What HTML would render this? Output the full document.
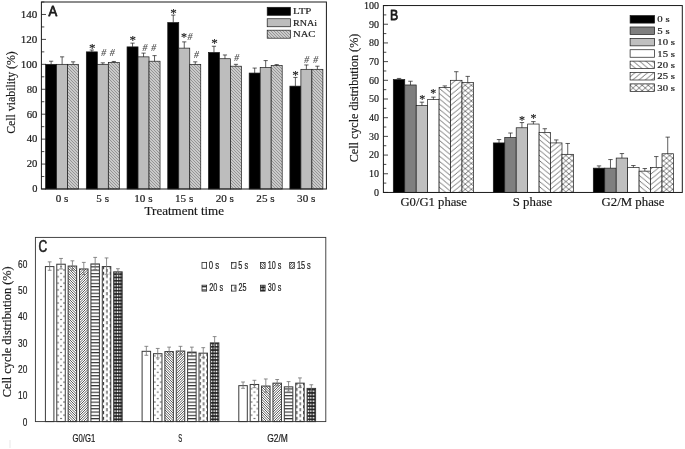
<!DOCTYPE html>
<html lang="en"><head><meta charset="utf-8"><title>Figure</title>
<style>html,body{margin:0;padding:0;background:#fff}svg{display:block}</style></head>
<body>
<svg width="685" height="449" viewBox="0 0 685 449">
<defs>
<pattern id="pNAC" width="3" height="3" patternUnits="userSpaceOnUse"><rect width="3" height="3" fill="#fff"/><path d="M-0.5,-0.5 L3.5,3.5 M-0.5,1 L2,3.5 M1,-0.5 L3.5,2 M-0.5,2.5 L0.5,3.5 M2.5,-0.5 L3.5,0.5" stroke="#2a2a2a" stroke-width="0.5"/></pattern>
<pattern id="pB1" x="439.2" y="88.3" width="6.3" height="5.2" patternUnits="userSpaceOnUse"><rect width="6.3" height="5.2" fill="#fff"/><path d="M-6.3,-5.2 L12.6,10.4 M4.3,-1.651 L8.3,1.651 M-2,3.549 L2,6.851" stroke="#2a2a2a" stroke-width="0.65"/></pattern>
<pattern id="pB2" x="450.5" y="84.7" width="6.3" height="5.2" patternUnits="userSpaceOnUse"><rect width="6.3" height="5.2" fill="#fff"/><path d="M-6.3,10.4 L12.6,-5.2 M-2,1.651 L2,-1.651 M4.3,6.851 L8.3,3.549" stroke="#2a2a2a" stroke-width="0.65"/></pattern>
<pattern id="pB3" x="465.25" y="85.35" width="6.1" height="5.2" patternUnits="userSpaceOnUse"><rect width="6.1" height="5.2" fill="#fff"/><path d="M-6.1,-5.2 L12.2,10.4 M-6.1,10.4 L12.2,-5.2" stroke="#2a2a2a" stroke-width="0.6"/></pattern>

<pattern id="pC3" width="5" height="5" patternUnits="userSpaceOnUse"><rect width="5" height="5" fill="#fff"/><path d="M-1,-1 L6,6 M-1,1.5 L3.5,6 M1.5,-1 L6,3.5 M-1,4 L1,6 M4,-1 L6,1" stroke="#333" stroke-width="0.8"/></pattern>
<pattern id="pC4" width="5" height="5" patternUnits="userSpaceOnUse"><rect width="5" height="5" fill="#fff"/><path d="M-1,6 L6,-1 M-1,3.5 L3.5,-1 M1.5,6 L6,1.5 M-1,1 L1,-1 M4,6 L6,4" stroke="#333" stroke-width="0.8"/></pattern>
<pattern id="pC5" y="263.0" width="4" height="3.3" patternUnits="userSpaceOnUse"><rect width="4" height="3.3" fill="#fff"/><rect y="0" width="4" height="1.15" fill="#333"/></pattern>
<pattern id="pC2_0" x="58.08" y="270.0" width="6" height="6.6" patternUnits="userSpaceOnUse"><rect width="6" height="6.6" fill="#fff"/><circle cx="0" cy="0" r="0.72" fill="#2a2a2a"/><circle cx="6" cy="0" r="0.72" fill="#2a2a2a"/><circle cx="0" cy="6.6" r="0.72" fill="#2a2a2a"/><circle cx="6" cy="6.6" r="0.72" fill="#2a2a2a"/><circle cx="3" cy="3.3" r="0.72" fill="#2a2a2a"/></pattern>
<pattern id="pC6_0" x="102.95" y="266" width="6.8" height="5.8" patternUnits="userSpaceOnUse"><rect width="6.8" height="5.8" fill="#fff"/><rect x="0.0" y="0" width="1.1" height="3.2" fill="#333"/><rect x="3.4" y="2.9" width="1.1" height="3.2" fill="#333"/><rect x="3.4" y="-2.9" width="1.1" height="3.2" fill="#333"/></pattern>
<pattern id="pC7_0" x="113.76" y="343.45" width="2.45" height="3.3" patternUnits="userSpaceOnUse"><rect width="2.45" height="3.3" fill="#1c1c1c"/><rect x="0.55" y="0.75" width="1.35" height="1.8" fill="#fff"/></pattern>
<pattern id="pC2_1" x="154.78" y="270.0" width="6" height="6.6" patternUnits="userSpaceOnUse"><rect width="6" height="6.6" fill="#fff"/><circle cx="0" cy="0" r="0.72" fill="#2a2a2a"/><circle cx="6" cy="0" r="0.72" fill="#2a2a2a"/><circle cx="0" cy="6.6" r="0.72" fill="#2a2a2a"/><circle cx="6" cy="6.6" r="0.72" fill="#2a2a2a"/><circle cx="3" cy="3.3" r="0.72" fill="#2a2a2a"/></pattern>
<pattern id="pC6_1" x="199.65" y="266" width="6.8" height="5.8" patternUnits="userSpaceOnUse"><rect width="6.8" height="5.8" fill="#fff"/><rect x="0.0" y="0" width="1.1" height="3.2" fill="#333"/><rect x="3.4" y="2.9" width="1.1" height="3.2" fill="#333"/><rect x="3.4" y="-2.9" width="1.1" height="3.2" fill="#333"/></pattern>
<pattern id="pC7_1" x="210.45" y="343.45" width="2.45" height="3.3" patternUnits="userSpaceOnUse"><rect width="2.45" height="3.3" fill="#1c1c1c"/><rect x="0.55" y="0.75" width="1.35" height="1.8" fill="#fff"/></pattern>
<pattern id="pC2_2" x="251.48" y="270.0" width="6" height="6.6" patternUnits="userSpaceOnUse"><rect width="6" height="6.6" fill="#fff"/><circle cx="0" cy="0" r="0.72" fill="#2a2a2a"/><circle cx="6" cy="0" r="0.72" fill="#2a2a2a"/><circle cx="0" cy="6.6" r="0.72" fill="#2a2a2a"/><circle cx="6" cy="6.6" r="0.72" fill="#2a2a2a"/><circle cx="3" cy="3.3" r="0.72" fill="#2a2a2a"/></pattern>
<pattern id="pC6_2" x="296.35" y="266" width="6.8" height="5.8" patternUnits="userSpaceOnUse"><rect width="6.8" height="5.8" fill="#fff"/><rect x="0.0" y="0" width="1.1" height="3.2" fill="#333"/><rect x="3.4" y="2.9" width="1.1" height="3.2" fill="#333"/><rect x="3.4" y="-2.9" width="1.1" height="3.2" fill="#333"/></pattern>
<pattern id="pC7_2" x="307.16" y="343.45" width="2.45" height="3.3" patternUnits="userSpaceOnUse"><rect width="2.45" height="3.3" fill="#1c1c1c"/><rect x="0.55" y="0.75" width="1.35" height="1.8" fill="#fff"/></pattern>
<pattern id="pC2_3" x="232.40" y="270.0" width="6" height="6.6" patternUnits="userSpaceOnUse"><rect width="6" height="6.6" fill="#fff"/><circle cx="0" cy="0" r="0.72" fill="#2a2a2a"/><circle cx="6" cy="0" r="0.72" fill="#2a2a2a"/><circle cx="0" cy="6.6" r="0.72" fill="#2a2a2a"/><circle cx="6" cy="6.6" r="0.72" fill="#2a2a2a"/><circle cx="3" cy="3.3" r="0.72" fill="#2a2a2a"/></pattern>
<pattern id="pC6_3" x="231.00" y="266" width="6.8" height="5.8" patternUnits="userSpaceOnUse"><rect width="6.8" height="5.8" fill="#fff"/><rect x="0.0" y="0" width="1.1" height="3.2" fill="#333"/><rect x="3.4" y="2.9" width="1.1" height="3.2" fill="#333"/><rect x="3.4" y="-2.9" width="1.1" height="3.2" fill="#333"/></pattern>
<pattern id="pC7_3" x="260.60" y="343.45" width="2.45" height="3.3" patternUnits="userSpaceOnUse"><rect width="2.45" height="3.3" fill="#1c1c1c"/><rect x="0.55" y="0.75" width="1.35" height="1.8" fill="#fff"/></pattern>
</defs>
<rect width="685" height="449" fill="#fff"/>

<rect x="45.61" y="64.33" width="11.00" height="124.67" fill="#000" stroke="#1a1a1a" stroke-width="0.7"/>
<line x1="51.11" y1="64.33" x2="51.11" y2="61.22" stroke="#1a1a1a" stroke-width="0.7"/>
<line x1="49.01" y1="61.22" x2="53.21" y2="61.22" stroke="#1a1a1a" stroke-width="0.7"/>
<rect x="56.61" y="64.33" width="11.00" height="124.67" fill="#bdbdbd" stroke="#1a1a1a" stroke-width="0.7"/>
<line x1="62.11" y1="64.33" x2="62.11" y2="56.85" stroke="#1a1a1a" stroke-width="0.7"/>
<line x1="60.01" y1="56.85" x2="64.21" y2="56.85" stroke="#1a1a1a" stroke-width="0.7"/>
<rect x="67.61" y="64.33" width="11.00" height="124.67" fill="url(#pNAC)" stroke="#1a1a1a" stroke-width="0.7"/>
<line x1="73.11" y1="64.33" x2="73.11" y2="61.84" stroke="#1a1a1a" stroke-width="0.7"/>
<line x1="71.01" y1="61.84" x2="75.21" y2="61.84" stroke="#1a1a1a" stroke-width="0.7"/>
<rect x="86.32" y="51.87" width="11.00" height="137.13" fill="#000" stroke="#1a1a1a" stroke-width="0.7"/>
<line x1="91.82" y1="51.87" x2="91.82" y2="50.00" stroke="#1a1a1a" stroke-width="0.7"/>
<line x1="89.72" y1="50.00" x2="93.92" y2="50.00" stroke="#1a1a1a" stroke-width="0.7"/>
<rect x="97.32" y="64.33" width="11.00" height="124.67" fill="#bdbdbd" stroke="#1a1a1a" stroke-width="0.7"/>
<line x1="102.82" y1="64.33" x2="102.82" y2="62.84" stroke="#1a1a1a" stroke-width="0.7"/>
<line x1="100.72" y1="62.84" x2="104.92" y2="62.84" stroke="#1a1a1a" stroke-width="0.7"/>
<rect x="108.32" y="62.46" width="11.00" height="126.54" fill="url(#pNAC)" stroke="#1a1a1a" stroke-width="0.7"/>
<line x1="113.82" y1="62.46" x2="113.82" y2="61.47" stroke="#1a1a1a" stroke-width="0.7"/>
<line x1="111.72" y1="61.47" x2="115.92" y2="61.47" stroke="#1a1a1a" stroke-width="0.7"/>
<rect x="127.04" y="46.88" width="11.00" height="142.12" fill="#000" stroke="#1a1a1a" stroke-width="0.7"/>
<line x1="132.54" y1="46.88" x2="132.54" y2="43.14" stroke="#1a1a1a" stroke-width="0.7"/>
<line x1="130.44" y1="43.14" x2="134.64" y2="43.14" stroke="#1a1a1a" stroke-width="0.7"/>
<rect x="138.04" y="56.85" width="11.00" height="132.15" fill="#bdbdbd" stroke="#1a1a1a" stroke-width="0.7"/>
<line x1="143.54" y1="56.85" x2="143.54" y2="53.11" stroke="#1a1a1a" stroke-width="0.7"/>
<line x1="141.44" y1="53.11" x2="145.64" y2="53.11" stroke="#1a1a1a" stroke-width="0.7"/>
<rect x="149.04" y="61.22" width="11.00" height="127.78" fill="url(#pNAC)" stroke="#1a1a1a" stroke-width="0.7"/>
<line x1="154.54" y1="61.22" x2="154.54" y2="55.61" stroke="#1a1a1a" stroke-width="0.7"/>
<line x1="152.44" y1="55.61" x2="156.64" y2="55.61" stroke="#1a1a1a" stroke-width="0.7"/>
<rect x="167.75" y="22.57" width="11.00" height="166.43" fill="#000" stroke="#1a1a1a" stroke-width="0.7"/>
<line x1="173.25" y1="22.57" x2="173.25" y2="15.09" stroke="#1a1a1a" stroke-width="0.7"/>
<line x1="171.15" y1="15.09" x2="175.35" y2="15.09" stroke="#1a1a1a" stroke-width="0.7"/>
<rect x="178.75" y="48.13" width="11.00" height="140.87" fill="#bdbdbd" stroke="#1a1a1a" stroke-width="0.7"/>
<line x1="184.25" y1="48.13" x2="184.25" y2="41.89" stroke="#1a1a1a" stroke-width="0.7"/>
<line x1="182.15" y1="41.89" x2="186.35" y2="41.89" stroke="#1a1a1a" stroke-width="0.7"/>
<rect x="189.75" y="64.33" width="11.00" height="124.67" fill="url(#pNAC)" stroke="#1a1a1a" stroke-width="0.7"/>
<line x1="195.25" y1="64.33" x2="195.25" y2="61.84" stroke="#1a1a1a" stroke-width="0.7"/>
<line x1="193.15" y1="61.84" x2="197.35" y2="61.84" stroke="#1a1a1a" stroke-width="0.7"/>
<rect x="208.46" y="52.49" width="11.00" height="136.51" fill="#000" stroke="#1a1a1a" stroke-width="0.7"/>
<line x1="213.96" y1="52.49" x2="213.96" y2="46.26" stroke="#1a1a1a" stroke-width="0.7"/>
<line x1="211.86" y1="46.26" x2="216.06" y2="46.26" stroke="#1a1a1a" stroke-width="0.7"/>
<rect x="219.46" y="58.72" width="11.00" height="130.28" fill="#bdbdbd" stroke="#1a1a1a" stroke-width="0.7"/>
<line x1="224.96" y1="58.72" x2="224.96" y2="54.98" stroke="#1a1a1a" stroke-width="0.7"/>
<line x1="222.86" y1="54.98" x2="227.06" y2="54.98" stroke="#1a1a1a" stroke-width="0.7"/>
<rect x="230.46" y="66.20" width="11.00" height="122.80" fill="url(#pNAC)" stroke="#1a1a1a" stroke-width="0.7"/>
<line x1="235.96" y1="66.20" x2="235.96" y2="64.33" stroke="#1a1a1a" stroke-width="0.7"/>
<line x1="233.86" y1="64.33" x2="238.06" y2="64.33" stroke="#1a1a1a" stroke-width="0.7"/>
<rect x="249.18" y="73.06" width="11.00" height="115.94" fill="#000" stroke="#1a1a1a" stroke-width="0.7"/>
<line x1="254.68" y1="73.06" x2="254.68" y2="68.07" stroke="#1a1a1a" stroke-width="0.7"/>
<line x1="252.58" y1="68.07" x2="256.78" y2="68.07" stroke="#1a1a1a" stroke-width="0.7"/>
<rect x="260.18" y="67.45" width="11.00" height="121.55" fill="#bdbdbd" stroke="#1a1a1a" stroke-width="0.7"/>
<line x1="265.68" y1="67.45" x2="265.68" y2="60.59" stroke="#1a1a1a" stroke-width="0.7"/>
<line x1="263.58" y1="60.59" x2="267.78" y2="60.59" stroke="#1a1a1a" stroke-width="0.7"/>
<rect x="271.18" y="65.58" width="11.00" height="123.42" fill="url(#pNAC)" stroke="#1a1a1a" stroke-width="0.7"/>
<line x1="276.68" y1="65.58" x2="276.68" y2="64.58" stroke="#1a1a1a" stroke-width="0.7"/>
<line x1="274.58" y1="64.58" x2="278.78" y2="64.58" stroke="#1a1a1a" stroke-width="0.7"/>
<rect x="289.89" y="86.15" width="11.00" height="102.85" fill="#000" stroke="#1a1a1a" stroke-width="0.7"/>
<line x1="295.39" y1="86.15" x2="295.39" y2="77.42" stroke="#1a1a1a" stroke-width="0.7"/>
<line x1="293.29" y1="77.42" x2="297.49" y2="77.42" stroke="#1a1a1a" stroke-width="0.7"/>
<rect x="300.89" y="69.32" width="11.00" height="119.68" fill="#bdbdbd" stroke="#1a1a1a" stroke-width="0.7"/>
<line x1="306.39" y1="69.32" x2="306.39" y2="64.96" stroke="#1a1a1a" stroke-width="0.7"/>
<line x1="304.29" y1="64.96" x2="308.49" y2="64.96" stroke="#1a1a1a" stroke-width="0.7"/>
<rect x="311.89" y="69.32" width="11.00" height="119.68" fill="url(#pNAC)" stroke="#1a1a1a" stroke-width="0.7"/>
<line x1="317.39" y1="69.32" x2="317.39" y2="66.20" stroke="#1a1a1a" stroke-width="0.7"/>
<line x1="315.29" y1="66.20" x2="319.49" y2="66.20" stroke="#1a1a1a" stroke-width="0.7"/>
<rect x="41.40" y="2.00" width="285.00" height="187.00" fill="none" stroke="#1a1a1a" stroke-width="1.0"/>
<line x1="41.40" y1="189.00" x2="46.00" y2="189.00" stroke="#1a1a1a" stroke-width="0.8"/>
<line x1="41.40" y1="176.53" x2="44.30" y2="176.53" stroke="#1a1a1a" stroke-width="0.8"/>
<line x1="41.40" y1="164.07" x2="46.00" y2="164.07" stroke="#1a1a1a" stroke-width="0.8"/>
<line x1="41.40" y1="151.60" x2="44.30" y2="151.60" stroke="#1a1a1a" stroke-width="0.8"/>
<line x1="41.40" y1="139.13" x2="46.00" y2="139.13" stroke="#1a1a1a" stroke-width="0.8"/>
<line x1="41.40" y1="126.67" x2="44.30" y2="126.67" stroke="#1a1a1a" stroke-width="0.8"/>
<line x1="41.40" y1="114.20" x2="46.00" y2="114.20" stroke="#1a1a1a" stroke-width="0.8"/>
<line x1="41.40" y1="101.73" x2="44.30" y2="101.73" stroke="#1a1a1a" stroke-width="0.8"/>
<line x1="41.40" y1="89.27" x2="46.00" y2="89.27" stroke="#1a1a1a" stroke-width="0.8"/>
<line x1="41.40" y1="76.80" x2="44.30" y2="76.80" stroke="#1a1a1a" stroke-width="0.8"/>
<line x1="41.40" y1="64.33" x2="46.00" y2="64.33" stroke="#1a1a1a" stroke-width="0.8"/>
<line x1="41.40" y1="51.87" x2="44.30" y2="51.87" stroke="#1a1a1a" stroke-width="0.8"/>
<line x1="41.40" y1="39.40" x2="46.00" y2="39.40" stroke="#1a1a1a" stroke-width="0.8"/>
<line x1="41.40" y1="26.93" x2="44.30" y2="26.93" stroke="#1a1a1a" stroke-width="0.8"/>
<line x1="41.40" y1="14.47" x2="46.00" y2="14.47" stroke="#1a1a1a" stroke-width="0.8"/>
<line x1="41.40" y1="2.00" x2="44.30" y2="2.00" stroke="#1a1a1a" stroke-width="0.8"/>
<text x="37.40" y="192.30" font-size="10" font-family='"Liberation Serif", serif' text-anchor="end" fill="#1a1a1a" textLength="5.20" lengthAdjust="spacingAndGlyphs"  stroke="#1a1a1a" stroke-width="0.18">0</text>
<text x="37.40" y="167.37" font-size="10" font-family='"Liberation Serif", serif' text-anchor="end" fill="#1a1a1a" textLength="10.70" lengthAdjust="spacingAndGlyphs"  stroke="#1a1a1a" stroke-width="0.18">20</text>
<text x="37.40" y="142.43" font-size="10" font-family='"Liberation Serif", serif' text-anchor="end" fill="#1a1a1a" textLength="10.70" lengthAdjust="spacingAndGlyphs"  stroke="#1a1a1a" stroke-width="0.18">40</text>
<text x="37.40" y="117.50" font-size="10" font-family='"Liberation Serif", serif' text-anchor="end" fill="#1a1a1a" textLength="10.70" lengthAdjust="spacingAndGlyphs"  stroke="#1a1a1a" stroke-width="0.18">60</text>
<text x="37.40" y="92.57" font-size="10" font-family='"Liberation Serif", serif' text-anchor="end" fill="#1a1a1a" textLength="10.70" lengthAdjust="spacingAndGlyphs"  stroke="#1a1a1a" stroke-width="0.18">80</text>
<text x="37.40" y="67.63" font-size="10" font-family='"Liberation Serif", serif' text-anchor="end" fill="#1a1a1a" textLength="16.60" lengthAdjust="spacingAndGlyphs"  stroke="#1a1a1a" stroke-width="0.18">100</text>
<text x="37.40" y="42.70" font-size="10" font-family='"Liberation Serif", serif' text-anchor="end" fill="#1a1a1a" textLength="16.60" lengthAdjust="spacingAndGlyphs"  stroke="#1a1a1a" stroke-width="0.18">120</text>
<text x="37.40" y="17.77" font-size="10" font-family='"Liberation Serif", serif' text-anchor="end" fill="#1a1a1a" textLength="16.60" lengthAdjust="spacingAndGlyphs"  stroke="#1a1a1a" stroke-width="0.18">140</text>
<text x="61.96" y="201.80" font-size="10.3" font-family='"Liberation Serif", serif' text-anchor="middle" fill="#1a1a1a" textLength="12.60" lengthAdjust="spacingAndGlyphs"  stroke="#1a1a1a" stroke-width="0.18">0 s</text>
<text x="102.67" y="201.80" font-size="10.3" font-family='"Liberation Serif", serif' text-anchor="middle" fill="#1a1a1a" textLength="12.60" lengthAdjust="spacingAndGlyphs"  stroke="#1a1a1a" stroke-width="0.18">5 s</text>
<text x="143.39" y="201.80" font-size="10.3" font-family='"Liberation Serif", serif' text-anchor="middle" fill="#1a1a1a" textLength="18.30" lengthAdjust="spacingAndGlyphs"  stroke="#1a1a1a" stroke-width="0.18">10 s</text>
<text x="184.10" y="201.80" font-size="10.3" font-family='"Liberation Serif", serif' text-anchor="middle" fill="#1a1a1a" textLength="18.30" lengthAdjust="spacingAndGlyphs"  stroke="#1a1a1a" stroke-width="0.18">15 s</text>
<text x="224.81" y="201.80" font-size="10.3" font-family='"Liberation Serif", serif' text-anchor="middle" fill="#1a1a1a" textLength="18.30" lengthAdjust="spacingAndGlyphs"  stroke="#1a1a1a" stroke-width="0.18">20 s</text>
<text x="265.53" y="201.80" font-size="10.3" font-family='"Liberation Serif", serif' text-anchor="middle" fill="#1a1a1a" textLength="18.30" lengthAdjust="spacingAndGlyphs"  stroke="#1a1a1a" stroke-width="0.18">25 s</text>
<text x="306.24" y="201.80" font-size="10.3" font-family='"Liberation Serif", serif' text-anchor="middle" fill="#1a1a1a" textLength="18.30" lengthAdjust="spacingAndGlyphs"  stroke="#1a1a1a" stroke-width="0.18">30 s</text>
<text x="184.30" y="215.00" font-size="12" font-family='"Liberation Serif", serif' text-anchor="middle" fill="#1a1a1a" textLength="79.50" lengthAdjust="spacingAndGlyphs"  stroke="#1a1a1a" stroke-width="0.18">Treatment time</text>
<text x="15.00" y="92.50" font-size="13.3" font-family='"Liberation Serif", serif' text-anchor="middle" fill="#1a1a1a" textLength="82.50" lengthAdjust="spacingAndGlyphs" transform="rotate(-90 15.00 92.50)"  stroke="#1a1a1a" stroke-width="0.18">Cell viability (%)</text>
<text x="48.60" y="16.20" font-size="15.2" font-family='"Liberation Sans", sans-serif' text-anchor="start" fill="#1a1a1a" textLength="8.70" lengthAdjust="spacingAndGlyphs" stroke="#1a1a1a" stroke-width="0.8" stroke-linejoin="round">A</text>
<rect x="267.20" y="7.30" width="23.30" height="8.00" fill="#000" stroke="#1a1a1a" stroke-width="0.7"/>
<text x="293.00" y="14.40" font-size="9.2" font-family='"Liberation Serif", serif' text-anchor="start" fill="#1a1a1a" textLength="18.40" lengthAdjust="spacingAndGlyphs"  stroke="#1a1a1a" stroke-width="0.18">LTP</text>
<rect x="267.20" y="18.75" width="23.30" height="8.00" fill="#bdbdbd" stroke="#1a1a1a" stroke-width="0.7"/>
<text x="293.00" y="25.85" font-size="9.2" font-family='"Liberation Serif", serif' text-anchor="start" fill="#1a1a1a" textLength="24.10" lengthAdjust="spacingAndGlyphs"  stroke="#1a1a1a" stroke-width="0.18">RNAi</text>
<rect x="267.20" y="30.20" width="23.30" height="8.00" fill="url(#pNAC)" stroke="#1a1a1a" stroke-width="0.7"/>
<text x="293.00" y="37.30" font-size="9.2" font-family='"Liberation Serif", serif' text-anchor="start" fill="#1a1a1a" textLength="22.40" lengthAdjust="spacingAndGlyphs"  stroke="#1a1a1a" stroke-width="0.18">NAC</text>
<text x="92.20" y="52.17" font-size="13" font-family='"Liberation Serif", serif' text-anchor="middle" fill="#1a1a1a"  stroke="#1a1a1a" stroke-width="0.18">*</text>
<text x="103.80" y="55.97" font-size="9.9" font-family='"Liberation Serif", serif' text-anchor="middle" fill="#4a4a4a" font-style="italic" stroke="#4a4a4a" stroke-width="0.12">#</text>
<text x="112.20" y="55.97" font-size="9.9" font-family='"Liberation Serif", serif' text-anchor="middle" fill="#4a4a4a" font-style="italic" stroke="#4a4a4a" stroke-width="0.12">#</text>
<text x="132.70" y="44.38" font-size="13" font-family='"Liberation Serif", serif' text-anchor="middle" fill="#1a1a1a"  stroke="#1a1a1a" stroke-width="0.18">*</text>
<text x="144.90" y="50.97" font-size="9.9" font-family='"Liberation Serif", serif' text-anchor="middle" fill="#4a4a4a" font-style="italic" stroke="#4a4a4a" stroke-width="0.12">#</text>
<text x="153.80" y="50.97" font-size="9.9" font-family='"Liberation Serif", serif' text-anchor="middle" fill="#4a4a4a" font-style="italic" stroke="#4a4a4a" stroke-width="0.12">#</text>
<text x="173.40" y="17.48" font-size="13" font-family='"Liberation Serif", serif' text-anchor="middle" fill="#1a1a1a"  stroke="#1a1a1a" stroke-width="0.18">*</text>
<text x="183.90" y="41.30" font-size="12" font-family='"Liberation Serif", serif' text-anchor="middle" fill="#1a1a1a"  stroke="#1a1a1a" stroke-width="0.18">*</text>
<text x="189.90" y="39.57" font-size="9.9" font-family='"Liberation Serif", serif' text-anchor="middle" fill="#4a4a4a" font-style="italic" stroke="#4a4a4a" stroke-width="0.12">#</text>
<text x="196.40" y="58.37" font-size="9.9" font-family='"Liberation Serif", serif' text-anchor="middle" fill="#4a4a4a" font-style="italic" stroke="#4a4a4a" stroke-width="0.12">#</text>
<text x="214.40" y="46.88" font-size="13" font-family='"Liberation Serif", serif' text-anchor="middle" fill="#1a1a1a"  stroke="#1a1a1a" stroke-width="0.18">*</text>
<text x="236.70" y="61.37" font-size="9.9" font-family='"Liberation Serif", serif' text-anchor="middle" fill="#4a4a4a" font-style="italic" stroke="#4a4a4a" stroke-width="0.12">#</text>
<text x="295.40" y="79.17" font-size="13" font-family='"Liberation Serif", serif' text-anchor="middle" fill="#1a1a1a"  stroke="#1a1a1a" stroke-width="0.18">*</text>
<text x="306.80" y="62.57" font-size="9.9" font-family='"Liberation Serif", serif' text-anchor="middle" fill="#4a4a4a" font-style="italic" stroke="#4a4a4a" stroke-width="0.12">#</text>
<text x="315.60" y="62.57" font-size="9.9" font-family='"Liberation Serif", serif' text-anchor="middle" fill="#4a4a4a" font-style="italic" stroke="#4a4a4a" stroke-width="0.12">#</text>
<rect x="393.30" y="79.56" width="11.45" height="112.89" fill="#000" stroke="#1a1a1a" stroke-width="0.7"/>
<line x1="399.03" y1="79.56" x2="399.03" y2="78.44" stroke="#1a1a1a" stroke-width="0.7"/>
<line x1="396.83" y1="78.44" x2="401.23" y2="78.44" stroke="#1a1a1a" stroke-width="0.7"/>
<rect x="404.75" y="84.98" width="11.45" height="107.47" fill="#7f7f7f" stroke="#1a1a1a" stroke-width="0.7"/>
<line x1="410.48" y1="84.98" x2="410.48" y2="81.24" stroke="#1a1a1a" stroke-width="0.7"/>
<line x1="408.28" y1="81.24" x2="412.68" y2="81.24" stroke="#1a1a1a" stroke-width="0.7"/>
<rect x="416.20" y="105.54" width="11.45" height="86.91" fill="#bfbfbf" stroke="#1a1a1a" stroke-width="0.7"/>
<line x1="421.93" y1="105.54" x2="421.93" y2="102.18" stroke="#1a1a1a" stroke-width="0.7"/>
<line x1="419.73" y1="102.18" x2="424.12" y2="102.18" stroke="#1a1a1a" stroke-width="0.7"/>
<rect x="427.65" y="99.56" width="11.45" height="92.89" fill="#fff" stroke="#1a1a1a" stroke-width="0.7"/>
<line x1="433.38" y1="99.56" x2="433.38" y2="97.13" stroke="#1a1a1a" stroke-width="0.7"/>
<line x1="431.18" y1="97.13" x2="435.57" y2="97.13" stroke="#1a1a1a" stroke-width="0.7"/>
<rect x="439.10" y="87.60" width="11.45" height="104.85" fill="url(#pB1)" stroke="#1a1a1a" stroke-width="0.7"/>
<line x1="444.83" y1="87.60" x2="444.83" y2="85.92" stroke="#1a1a1a" stroke-width="0.7"/>
<line x1="442.63" y1="85.92" x2="447.03" y2="85.92" stroke="#1a1a1a" stroke-width="0.7"/>
<rect x="450.55" y="80.31" width="11.45" height="112.14" fill="url(#pB2)" stroke="#1a1a1a" stroke-width="0.7"/>
<line x1="456.28" y1="80.31" x2="456.28" y2="71.71" stroke="#1a1a1a" stroke-width="0.7"/>
<line x1="454.08" y1="71.71" x2="458.48" y2="71.71" stroke="#1a1a1a" stroke-width="0.7"/>
<rect x="462.00" y="82.37" width="11.45" height="110.08" fill="url(#pB3)" stroke="#1a1a1a" stroke-width="0.7"/>
<line x1="467.73" y1="82.37" x2="467.73" y2="76.39" stroke="#1a1a1a" stroke-width="0.7"/>
<line x1="465.53" y1="76.39" x2="469.93" y2="76.39" stroke="#1a1a1a" stroke-width="0.7"/>
<rect x="493.30" y="142.92" width="11.45" height="49.53" fill="#000" stroke="#1a1a1a" stroke-width="0.7"/>
<line x1="499.03" y1="142.92" x2="499.03" y2="139.56" stroke="#1a1a1a" stroke-width="0.7"/>
<line x1="496.83" y1="139.56" x2="501.23" y2="139.56" stroke="#1a1a1a" stroke-width="0.7"/>
<rect x="504.75" y="137.50" width="11.45" height="54.95" fill="#7f7f7f" stroke="#1a1a1a" stroke-width="0.7"/>
<line x1="510.48" y1="137.50" x2="510.48" y2="133.02" stroke="#1a1a1a" stroke-width="0.7"/>
<line x1="508.28" y1="133.02" x2="512.68" y2="133.02" stroke="#1a1a1a" stroke-width="0.7"/>
<rect x="516.20" y="127.78" width="11.45" height="64.67" fill="#bfbfbf" stroke="#1a1a1a" stroke-width="0.7"/>
<line x1="521.93" y1="127.78" x2="521.93" y2="122.55" stroke="#1a1a1a" stroke-width="0.7"/>
<line x1="519.73" y1="122.55" x2="524.13" y2="122.55" stroke="#1a1a1a" stroke-width="0.7"/>
<rect x="527.65" y="124.04" width="11.45" height="68.41" fill="#fff" stroke="#1a1a1a" stroke-width="0.7"/>
<line x1="533.38" y1="124.04" x2="533.38" y2="121.61" stroke="#1a1a1a" stroke-width="0.7"/>
<line x1="531.17" y1="121.61" x2="535.58" y2="121.61" stroke="#1a1a1a" stroke-width="0.7"/>
<rect x="539.10" y="132.46" width="11.45" height="59.99" fill="url(#pB1)" stroke="#1a1a1a" stroke-width="0.7"/>
<line x1="544.83" y1="132.46" x2="544.83" y2="128.72" stroke="#1a1a1a" stroke-width="0.7"/>
<line x1="542.62" y1="128.72" x2="547.03" y2="128.72" stroke="#1a1a1a" stroke-width="0.7"/>
<rect x="550.55" y="142.92" width="11.45" height="49.53" fill="url(#pB2)" stroke="#1a1a1a" stroke-width="0.7"/>
<line x1="556.27" y1="142.92" x2="556.27" y2="139.93" stroke="#1a1a1a" stroke-width="0.7"/>
<line x1="554.07" y1="139.93" x2="558.48" y2="139.93" stroke="#1a1a1a" stroke-width="0.7"/>
<rect x="562.00" y="154.32" width="11.45" height="38.13" fill="url(#pB3)" stroke="#1a1a1a" stroke-width="0.7"/>
<line x1="567.73" y1="154.32" x2="567.73" y2="143.48" stroke="#1a1a1a" stroke-width="0.7"/>
<line x1="565.52" y1="143.48" x2="569.93" y2="143.48" stroke="#1a1a1a" stroke-width="0.7"/>
<rect x="593.30" y="168.15" width="11.45" height="24.30" fill="#000" stroke="#1a1a1a" stroke-width="0.7"/>
<line x1="599.02" y1="168.15" x2="599.02" y2="165.91" stroke="#1a1a1a" stroke-width="0.7"/>
<line x1="596.82" y1="165.91" x2="601.23" y2="165.91" stroke="#1a1a1a" stroke-width="0.7"/>
<rect x="604.75" y="168.15" width="11.45" height="24.30" fill="#7f7f7f" stroke="#1a1a1a" stroke-width="0.7"/>
<line x1="610.48" y1="168.15" x2="610.48" y2="159.56" stroke="#1a1a1a" stroke-width="0.7"/>
<line x1="608.27" y1="159.56" x2="612.68" y2="159.56" stroke="#1a1a1a" stroke-width="0.7"/>
<rect x="616.20" y="158.06" width="11.45" height="34.39" fill="#bfbfbf" stroke="#1a1a1a" stroke-width="0.7"/>
<line x1="621.92" y1="158.06" x2="621.92" y2="153.57" stroke="#1a1a1a" stroke-width="0.7"/>
<line x1="619.72" y1="153.57" x2="624.12" y2="153.57" stroke="#1a1a1a" stroke-width="0.7"/>
<rect x="627.65" y="167.41" width="11.45" height="25.04" fill="#fff" stroke="#1a1a1a" stroke-width="0.7"/>
<line x1="633.38" y1="167.41" x2="633.38" y2="165.54" stroke="#1a1a1a" stroke-width="0.7"/>
<line x1="631.17" y1="165.54" x2="635.58" y2="165.54" stroke="#1a1a1a" stroke-width="0.7"/>
<rect x="639.10" y="171.14" width="11.45" height="21.31" fill="url(#pB1)" stroke="#1a1a1a" stroke-width="0.7"/>
<line x1="644.82" y1="171.14" x2="644.82" y2="168.53" stroke="#1a1a1a" stroke-width="0.7"/>
<line x1="642.62" y1="168.53" x2="647.02" y2="168.53" stroke="#1a1a1a" stroke-width="0.7"/>
<rect x="650.55" y="167.41" width="11.45" height="25.04" fill="url(#pB2)" stroke="#1a1a1a" stroke-width="0.7"/>
<line x1="656.27" y1="167.41" x2="656.27" y2="156.57" stroke="#1a1a1a" stroke-width="0.7"/>
<line x1="654.07" y1="156.57" x2="658.48" y2="156.57" stroke="#1a1a1a" stroke-width="0.7"/>
<rect x="662.00" y="153.76" width="11.45" height="38.69" fill="url(#pB3)" stroke="#1a1a1a" stroke-width="0.7"/>
<line x1="667.73" y1="153.76" x2="667.73" y2="137.13" stroke="#1a1a1a" stroke-width="0.7"/>
<line x1="665.52" y1="137.13" x2="669.93" y2="137.13" stroke="#1a1a1a" stroke-width="0.7"/>
<rect x="383.40" y="5.55" width="298.90" height="186.90" fill="none" stroke="#1a1a1a" stroke-width="1.0"/>
<line x1="383.40" y1="192.45" x2="388.00" y2="192.45" stroke="#1a1a1a" stroke-width="0.8"/>
<line x1="383.40" y1="183.10" x2="386.30" y2="183.10" stroke="#1a1a1a" stroke-width="0.8"/>
<line x1="383.40" y1="173.76" x2="388.00" y2="173.76" stroke="#1a1a1a" stroke-width="0.8"/>
<line x1="383.40" y1="164.41" x2="386.30" y2="164.41" stroke="#1a1a1a" stroke-width="0.8"/>
<line x1="383.40" y1="155.07" x2="388.00" y2="155.07" stroke="#1a1a1a" stroke-width="0.8"/>
<line x1="383.40" y1="145.72" x2="386.30" y2="145.72" stroke="#1a1a1a" stroke-width="0.8"/>
<line x1="383.40" y1="136.38" x2="388.00" y2="136.38" stroke="#1a1a1a" stroke-width="0.8"/>
<line x1="383.40" y1="127.03" x2="386.30" y2="127.03" stroke="#1a1a1a" stroke-width="0.8"/>
<line x1="383.40" y1="117.69" x2="388.00" y2="117.69" stroke="#1a1a1a" stroke-width="0.8"/>
<line x1="383.40" y1="108.34" x2="386.30" y2="108.34" stroke="#1a1a1a" stroke-width="0.8"/>
<line x1="383.40" y1="99.00" x2="388.00" y2="99.00" stroke="#1a1a1a" stroke-width="0.8"/>
<line x1="383.40" y1="89.66" x2="386.30" y2="89.66" stroke="#1a1a1a" stroke-width="0.8"/>
<line x1="383.40" y1="80.31" x2="388.00" y2="80.31" stroke="#1a1a1a" stroke-width="0.8"/>
<line x1="383.40" y1="70.97" x2="386.30" y2="70.97" stroke="#1a1a1a" stroke-width="0.8"/>
<line x1="383.40" y1="61.62" x2="388.00" y2="61.62" stroke="#1a1a1a" stroke-width="0.8"/>
<line x1="383.40" y1="52.28" x2="386.30" y2="52.28" stroke="#1a1a1a" stroke-width="0.8"/>
<line x1="383.40" y1="42.93" x2="388.00" y2="42.93" stroke="#1a1a1a" stroke-width="0.8"/>
<line x1="383.40" y1="33.59" x2="386.30" y2="33.59" stroke="#1a1a1a" stroke-width="0.8"/>
<line x1="383.40" y1="24.24" x2="388.00" y2="24.24" stroke="#1a1a1a" stroke-width="0.8"/>
<line x1="383.40" y1="14.90" x2="386.30" y2="14.90" stroke="#1a1a1a" stroke-width="0.8"/>
<line x1="383.40" y1="5.55" x2="388.00" y2="5.55" stroke="#1a1a1a" stroke-width="0.8"/>
<text x="379.00" y="195.75" font-size="10.0" font-family='"Liberation Serif", serif' text-anchor="end" fill="#1a1a1a"  stroke="#1a1a1a" stroke-width="0.18">0</text>
<text x="379.00" y="177.06" font-size="10.0" font-family='"Liberation Serif", serif' text-anchor="end" fill="#1a1a1a"  stroke="#1a1a1a" stroke-width="0.18">10</text>
<text x="379.00" y="158.37" font-size="10.0" font-family='"Liberation Serif", serif' text-anchor="end" fill="#1a1a1a"  stroke="#1a1a1a" stroke-width="0.18">20</text>
<text x="379.00" y="139.68" font-size="10.0" font-family='"Liberation Serif", serif' text-anchor="end" fill="#1a1a1a"  stroke="#1a1a1a" stroke-width="0.18">30</text>
<text x="379.00" y="120.99" font-size="10.0" font-family='"Liberation Serif", serif' text-anchor="end" fill="#1a1a1a"  stroke="#1a1a1a" stroke-width="0.18">40</text>
<text x="379.00" y="102.30" font-size="10.0" font-family='"Liberation Serif", serif' text-anchor="end" fill="#1a1a1a"  stroke="#1a1a1a" stroke-width="0.18">50</text>
<text x="379.00" y="83.61" font-size="10.0" font-family='"Liberation Serif", serif' text-anchor="end" fill="#1a1a1a"  stroke="#1a1a1a" stroke-width="0.18">60</text>
<text x="379.00" y="64.92" font-size="10.0" font-family='"Liberation Serif", serif' text-anchor="end" fill="#1a1a1a"  stroke="#1a1a1a" stroke-width="0.18">70</text>
<text x="379.00" y="46.23" font-size="10.0" font-family='"Liberation Serif", serif' text-anchor="end" fill="#1a1a1a"  stroke="#1a1a1a" stroke-width="0.18">80</text>
<text x="379.00" y="27.54" font-size="10.0" font-family='"Liberation Serif", serif' text-anchor="end" fill="#1a1a1a"  stroke="#1a1a1a" stroke-width="0.18">90</text>
<text x="379.00" y="8.85" font-size="10.0" font-family='"Liberation Serif", serif' text-anchor="end" fill="#1a1a1a"  stroke="#1a1a1a" stroke-width="0.18">100</text>
<text x="433.70" y="206.00" font-size="12" font-family='"Liberation Serif", serif' text-anchor="middle" fill="#1a1a1a" textLength="66.50" lengthAdjust="spacingAndGlyphs"  stroke="#1a1a1a" stroke-width="0.18">G0/G1 phase</text>
<text x="532.50" y="206.00" font-size="12" font-family='"Liberation Serif", serif' text-anchor="middle" fill="#1a1a1a" textLength="39.50" lengthAdjust="spacingAndGlyphs"  stroke="#1a1a1a" stroke-width="0.18">S phase</text>
<text x="633.00" y="206.00" font-size="12" font-family='"Liberation Serif", serif' text-anchor="middle" fill="#1a1a1a" textLength="63.00" lengthAdjust="spacingAndGlyphs"  stroke="#1a1a1a" stroke-width="0.18">G2/M phase</text>
<text x="358.20" y="98.00" font-size="13.3" font-family='"Liberation Serif", serif' text-anchor="middle" fill="#1a1a1a" textLength="128.50" lengthAdjust="spacingAndGlyphs" transform="rotate(-90 358.20 98.00)"  stroke="#1a1a1a" stroke-width="0.18">Cell cycle distribution (%)</text>
<text x="389.90" y="19.50" font-size="15.4" font-family='"Liberation Sans", sans-serif' text-anchor="start" fill="#1a1a1a" textLength="8.20" lengthAdjust="spacingAndGlyphs" stroke="#1a1a1a" stroke-width="0.8" stroke-linejoin="round">B</text>
<rect x="630.10" y="15.60" width="24.50" height="7.50" fill="#000" stroke="#1a1a1a" stroke-width="0.7"/>
<text x="657.30" y="22.40" font-size="8.6" font-family='"Liberation Serif", serif' text-anchor="start" fill="#1a1a1a" textLength="12.30" lengthAdjust="spacingAndGlyphs"  stroke="#1a1a1a" stroke-width="0.18">0 s</text>
<rect x="630.10" y="26.98" width="24.50" height="7.50" fill="#7f7f7f" stroke="#1a1a1a" stroke-width="0.7"/>
<text x="657.30" y="33.78" font-size="8.6" font-family='"Liberation Serif", serif' text-anchor="start" fill="#1a1a1a" textLength="12.30" lengthAdjust="spacingAndGlyphs"  stroke="#1a1a1a" stroke-width="0.18">5 s</text>
<rect x="630.10" y="38.36" width="24.50" height="7.50" fill="#bfbfbf" stroke="#1a1a1a" stroke-width="0.7"/>
<text x="657.30" y="45.16" font-size="8.6" font-family='"Liberation Serif", serif' text-anchor="start" fill="#1a1a1a" textLength="17.60" lengthAdjust="spacingAndGlyphs"  stroke="#1a1a1a" stroke-width="0.18">10 s</text>
<rect x="630.10" y="49.74" width="24.50" height="7.50" fill="#fff" stroke="#1a1a1a" stroke-width="0.7"/>
<text x="657.30" y="56.54" font-size="8.6" font-family='"Liberation Serif", serif' text-anchor="start" fill="#1a1a1a" textLength="17.60" lengthAdjust="spacingAndGlyphs"  stroke="#1a1a1a" stroke-width="0.18">15 s</text>
<rect x="630.10" y="61.12" width="24.50" height="7.50" fill="url(#pB1)" stroke="#1a1a1a" stroke-width="0.7"/>
<text x="657.30" y="67.92" font-size="8.6" font-family='"Liberation Serif", serif' text-anchor="start" fill="#1a1a1a" textLength="17.60" lengthAdjust="spacingAndGlyphs"  stroke="#1a1a1a" stroke-width="0.18">20 s</text>
<rect x="630.10" y="72.50" width="24.50" height="7.50" fill="url(#pB2)" stroke="#1a1a1a" stroke-width="0.7"/>
<text x="657.30" y="79.30" font-size="8.6" font-family='"Liberation Serif", serif' text-anchor="start" fill="#1a1a1a" textLength="17.60" lengthAdjust="spacingAndGlyphs"  stroke="#1a1a1a" stroke-width="0.18">25 s</text>
<rect x="630.10" y="83.88" width="24.50" height="7.50" fill="url(#pB3)" stroke="#1a1a1a" stroke-width="0.7"/>
<text x="657.30" y="90.68" font-size="8.6" font-family='"Liberation Serif", serif' text-anchor="start" fill="#1a1a1a" textLength="17.60" lengthAdjust="spacingAndGlyphs"  stroke="#1a1a1a" stroke-width="0.18">30 s</text>
<text x="422.30" y="102.70" font-size="12" font-family='"Liberation Serif", serif' text-anchor="middle" fill="#1a1a1a"  stroke="#1a1a1a" stroke-width="0.18">*</text>
<text x="433.30" y="96.70" font-size="12" font-family='"Liberation Serif", serif' text-anchor="middle" fill="#1a1a1a"  stroke="#1a1a1a" stroke-width="0.18">*</text>
<text x="522.00" y="123.70" font-size="12" font-family='"Liberation Serif", serif' text-anchor="middle" fill="#1a1a1a"  stroke="#1a1a1a" stroke-width="0.18">*</text>
<text x="533.50" y="122.20" font-size="12" font-family='"Liberation Serif", serif' text-anchor="middle" fill="#1a1a1a"  stroke="#1a1a1a" stroke-width="0.18">*</text>
<rect x="45.40" y="266.58" width="8.50" height="155.02" fill="#fff" stroke="#3a3a3a" stroke-width="1.0"/>
<line x1="49.65" y1="270.29" x2="49.65" y2="261.87" stroke="#707070" stroke-width="0.8"/>
<line x1="47.75" y1="261.87" x2="51.55" y2="261.87" stroke="#707070" stroke-width="0.8"/>
<line x1="47.75" y1="270.29" x2="51.55" y2="270.29" stroke="#707070" stroke-width="0.8"/>
<rect x="56.78" y="264.21" width="8.50" height="157.39" fill="url(#pC2_0)" stroke="#3a3a3a" stroke-width="1.0"/>
<line x1="61.03" y1="268.98" x2="61.03" y2="258.45" stroke="#707070" stroke-width="0.8"/>
<line x1="59.13" y1="258.45" x2="62.93" y2="258.45" stroke="#707070" stroke-width="0.8"/>
<line x1="59.13" y1="268.98" x2="62.93" y2="268.98" stroke="#707070" stroke-width="0.8"/>
<rect x="68.16" y="266.06" width="8.50" height="155.54" fill="url(#pC3)" stroke="#3a3a3a" stroke-width="1.0"/>
<line x1="72.41" y1="270.29" x2="72.41" y2="260.82" stroke="#707070" stroke-width="0.8"/>
<line x1="70.51" y1="260.82" x2="74.31" y2="260.82" stroke="#707070" stroke-width="0.8"/>
<line x1="70.51" y1="270.29" x2="74.31" y2="270.29" stroke="#707070" stroke-width="0.8"/>
<rect x="79.54" y="268.95" width="8.50" height="152.65" fill="url(#pC4)" stroke="#3a3a3a" stroke-width="1.0"/>
<line x1="83.79" y1="274.50" x2="83.79" y2="262.40" stroke="#707070" stroke-width="0.8"/>
<line x1="81.89" y1="262.40" x2="85.69" y2="262.40" stroke="#707070" stroke-width="0.8"/>
<line x1="81.89" y1="274.50" x2="85.69" y2="274.50" stroke="#707070" stroke-width="0.8"/>
<rect x="90.92" y="263.95" width="8.50" height="157.65" fill="url(#pC5)" stroke="#3a3a3a" stroke-width="1.0"/>
<line x1="95.17" y1="269.50" x2="95.17" y2="257.40" stroke="#707070" stroke-width="0.8"/>
<line x1="93.27" y1="257.40" x2="97.07" y2="257.40" stroke="#707070" stroke-width="0.8"/>
<line x1="93.27" y1="269.50" x2="97.07" y2="269.50" stroke="#707070" stroke-width="0.8"/>
<rect x="102.30" y="266.58" width="8.50" height="155.02" fill="url(#pC6_0)" stroke="#3a3a3a" stroke-width="1.0"/>
<line x1="106.55" y1="274.24" x2="106.55" y2="257.93" stroke="#707070" stroke-width="0.8"/>
<line x1="104.65" y1="257.93" x2="108.45" y2="257.93" stroke="#707070" stroke-width="0.8"/>
<line x1="104.65" y1="274.24" x2="108.45" y2="274.24" stroke="#707070" stroke-width="0.8"/>
<rect x="113.68" y="271.85" width="8.50" height="149.75" fill="url(#pC7_0)" stroke="#3a3a3a" stroke-width="1.0"/>
<line x1="117.93" y1="273.98" x2="117.93" y2="268.71" stroke="#707070" stroke-width="0.8"/>
<line x1="116.03" y1="268.71" x2="119.83" y2="268.71" stroke="#707070" stroke-width="0.8"/>
<line x1="116.03" y1="273.98" x2="119.83" y2="273.98" stroke="#707070" stroke-width="0.8"/>
<rect x="142.10" y="351.31" width="8.50" height="70.29" fill="#fff" stroke="#3a3a3a" stroke-width="1.0"/>
<line x1="146.35" y1="355.29" x2="146.35" y2="346.34" stroke="#707070" stroke-width="0.8"/>
<line x1="144.45" y1="346.34" x2="148.25" y2="346.34" stroke="#707070" stroke-width="0.8"/>
<line x1="144.45" y1="355.29" x2="148.25" y2="355.29" stroke="#707070" stroke-width="0.8"/>
<rect x="153.48" y="353.68" width="8.50" height="67.92" fill="url(#pC2_1)" stroke="#3a3a3a" stroke-width="1.0"/>
<line x1="157.73" y1="357.92" x2="157.73" y2="348.45" stroke="#707070" stroke-width="0.8"/>
<line x1="155.83" y1="348.45" x2="159.63" y2="348.45" stroke="#707070" stroke-width="0.8"/>
<line x1="155.83" y1="357.92" x2="159.63" y2="357.92" stroke="#707070" stroke-width="0.8"/>
<rect x="164.86" y="351.58" width="8.50" height="70.02" fill="url(#pC3)" stroke="#3a3a3a" stroke-width="1.0"/>
<line x1="169.11" y1="355.02" x2="169.11" y2="347.13" stroke="#707070" stroke-width="0.8"/>
<line x1="167.21" y1="347.13" x2="171.01" y2="347.13" stroke="#707070" stroke-width="0.8"/>
<line x1="167.21" y1="355.02" x2="171.01" y2="355.02" stroke="#707070" stroke-width="0.8"/>
<rect x="176.24" y="351.05" width="8.50" height="70.55" fill="url(#pC4)" stroke="#3a3a3a" stroke-width="1.0"/>
<line x1="180.49" y1="354.76" x2="180.49" y2="346.34" stroke="#707070" stroke-width="0.8"/>
<line x1="178.59" y1="346.34" x2="182.39" y2="346.34" stroke="#707070" stroke-width="0.8"/>
<line x1="178.59" y1="354.76" x2="182.39" y2="354.76" stroke="#707070" stroke-width="0.8"/>
<rect x="187.62" y="352.10" width="8.50" height="69.50" fill="url(#pC5)" stroke="#3a3a3a" stroke-width="1.0"/>
<line x1="191.87" y1="356.08" x2="191.87" y2="347.13" stroke="#707070" stroke-width="0.8"/>
<line x1="189.97" y1="347.13" x2="193.77" y2="347.13" stroke="#707070" stroke-width="0.8"/>
<line x1="189.97" y1="356.08" x2="193.77" y2="356.08" stroke="#707070" stroke-width="0.8"/>
<rect x="199.00" y="353.16" width="8.50" height="68.44" fill="url(#pC6_1)" stroke="#3a3a3a" stroke-width="1.0"/>
<line x1="203.25" y1="357.66" x2="203.25" y2="347.66" stroke="#707070" stroke-width="0.8"/>
<line x1="201.35" y1="347.66" x2="205.15" y2="347.66" stroke="#707070" stroke-width="0.8"/>
<line x1="201.35" y1="357.66" x2="205.15" y2="357.66" stroke="#707070" stroke-width="0.8"/>
<rect x="210.38" y="342.89" width="8.50" height="78.71" fill="url(#pC7_1)" stroke="#3a3a3a" stroke-width="1.0"/>
<line x1="214.63" y1="348.18" x2="214.63" y2="336.60" stroke="#707070" stroke-width="0.8"/>
<line x1="212.73" y1="336.60" x2="216.53" y2="336.60" stroke="#707070" stroke-width="0.8"/>
<line x1="212.73" y1="348.18" x2="216.53" y2="348.18" stroke="#707070" stroke-width="0.8"/>
<rect x="238.80" y="385.65" width="8.50" height="35.95" fill="#fff" stroke="#3a3a3a" stroke-width="1.0"/>
<line x1="243.05" y1="388.31" x2="243.05" y2="382.00" stroke="#707070" stroke-width="0.8"/>
<line x1="241.15" y1="382.00" x2="244.95" y2="382.00" stroke="#707070" stroke-width="0.8"/>
<line x1="241.15" y1="388.31" x2="244.95" y2="388.31" stroke="#707070" stroke-width="0.8"/>
<rect x="250.18" y="384.47" width="8.50" height="37.13" fill="url(#pC2_2)" stroke="#3a3a3a" stroke-width="1.0"/>
<line x1="254.43" y1="387.65" x2="254.43" y2="380.29" stroke="#707070" stroke-width="0.8"/>
<line x1="252.53" y1="380.29" x2="256.33" y2="380.29" stroke="#707070" stroke-width="0.8"/>
<line x1="252.53" y1="387.65" x2="256.33" y2="387.65" stroke="#707070" stroke-width="0.8"/>
<rect x="261.56" y="386.05" width="8.50" height="35.55" fill="url(#pC3)" stroke="#3a3a3a" stroke-width="1.0"/>
<line x1="265.81" y1="392.13" x2="265.81" y2="378.97" stroke="#707070" stroke-width="0.8"/>
<line x1="263.91" y1="378.97" x2="267.71" y2="378.97" stroke="#707070" stroke-width="0.8"/>
<line x1="263.91" y1="392.13" x2="267.71" y2="392.13" stroke="#707070" stroke-width="0.8"/>
<rect x="272.94" y="383.15" width="8.50" height="38.45" fill="url(#pC4)" stroke="#3a3a3a" stroke-width="1.0"/>
<line x1="277.19" y1="385.81" x2="277.19" y2="379.50" stroke="#707070" stroke-width="0.8"/>
<line x1="275.29" y1="379.50" x2="279.09" y2="379.50" stroke="#707070" stroke-width="0.8"/>
<line x1="275.29" y1="385.81" x2="279.09" y2="385.81" stroke="#707070" stroke-width="0.8"/>
<rect x="284.32" y="386.84" width="8.50" height="34.76" fill="url(#pC5)" stroke="#3a3a3a" stroke-width="1.0"/>
<line x1="288.57" y1="391.08" x2="288.57" y2="381.60" stroke="#707070" stroke-width="0.8"/>
<line x1="286.67" y1="381.60" x2="290.47" y2="381.60" stroke="#707070" stroke-width="0.8"/>
<line x1="286.67" y1="391.08" x2="290.47" y2="391.08" stroke="#707070" stroke-width="0.8"/>
<rect x="295.70" y="383.15" width="8.50" height="38.45" fill="url(#pC6_2)" stroke="#3a3a3a" stroke-width="1.0"/>
<line x1="299.95" y1="387.39" x2="299.95" y2="377.92" stroke="#707070" stroke-width="0.8"/>
<line x1="298.05" y1="377.92" x2="301.85" y2="377.92" stroke="#707070" stroke-width="0.8"/>
<line x1="298.05" y1="387.39" x2="301.85" y2="387.39" stroke="#707070" stroke-width="0.8"/>
<rect x="307.08" y="388.42" width="8.50" height="33.18" fill="url(#pC7_2)" stroke="#3a3a3a" stroke-width="1.0"/>
<line x1="311.33" y1="391.08" x2="311.33" y2="384.76" stroke="#707070" stroke-width="0.8"/>
<line x1="309.43" y1="384.76" x2="313.23" y2="384.76" stroke="#707070" stroke-width="0.8"/>
<line x1="309.43" y1="391.08" x2="313.23" y2="391.08" stroke="#707070" stroke-width="0.8"/>
<rect x="35.40" y="237.40" width="290.40" height="184.20" fill="none" stroke="#333" stroke-width="0.9"/>
<rect x="9" y="440" width="2" height="8" fill="#f3f3f3"/>
<text x="27.40" y="425.70" font-size="11.2" font-family='"Liberation Sans", sans-serif' text-anchor="end" fill="#1a1a1a" textLength="4.60" lengthAdjust="spacingAndGlyphs" stroke="#1a1a1a" stroke-width="0.2">0</text>
<text x="27.40" y="399.39" font-size="11.2" font-family='"Liberation Sans", sans-serif' text-anchor="end" fill="#1a1a1a" textLength="9.30" lengthAdjust="spacingAndGlyphs" stroke="#1a1a1a" stroke-width="0.2">10</text>
<text x="27.40" y="373.07" font-size="11.2" font-family='"Liberation Sans", sans-serif' text-anchor="end" fill="#1a1a1a" textLength="9.30" lengthAdjust="spacingAndGlyphs" stroke="#1a1a1a" stroke-width="0.2">20</text>
<text x="27.40" y="346.76" font-size="11.2" font-family='"Liberation Sans", sans-serif' text-anchor="end" fill="#1a1a1a" textLength="9.30" lengthAdjust="spacingAndGlyphs" stroke="#1a1a1a" stroke-width="0.2">30</text>
<text x="27.40" y="320.44" font-size="11.2" font-family='"Liberation Sans", sans-serif' text-anchor="end" fill="#1a1a1a" textLength="9.30" lengthAdjust="spacingAndGlyphs" stroke="#1a1a1a" stroke-width="0.2">40</text>
<text x="27.40" y="294.13" font-size="11.2" font-family='"Liberation Sans", sans-serif' text-anchor="end" fill="#1a1a1a" textLength="9.30" lengthAdjust="spacingAndGlyphs" stroke="#1a1a1a" stroke-width="0.2">50</text>
<text x="27.40" y="267.81" font-size="11.2" font-family='"Liberation Sans", sans-serif' text-anchor="end" fill="#1a1a1a" textLength="9.30" lengthAdjust="spacingAndGlyphs" stroke="#1a1a1a" stroke-width="0.2">60</text>
<text x="83.90" y="441.80" font-size="10.6" font-family='"Liberation Sans", sans-serif' text-anchor="middle" fill="#1a1a1a" textLength="22.70" lengthAdjust="spacingAndGlyphs" stroke="#1a1a1a" stroke-width="0.2">G0/G1</text>
<text x="180.20" y="441.80" font-size="10.6" font-family='"Liberation Sans", sans-serif' text-anchor="middle" fill="#1a1a1a" textLength="3.90" lengthAdjust="spacingAndGlyphs" stroke="#1a1a1a" stroke-width="0.2">S</text>
<text x="277.50" y="441.80" font-size="10.6" font-family='"Liberation Sans", sans-serif' text-anchor="middle" fill="#1a1a1a" textLength="20.70" lengthAdjust="spacingAndGlyphs" stroke="#1a1a1a" stroke-width="0.2">G2/M</text>
<text x="10.70" y="331.80" font-size="11.5" font-family='"Liberation Serif", serif' text-anchor="middle" fill="#1a1a1a" textLength="131.00" lengthAdjust="spacingAndGlyphs" transform="rotate(-90 10.70 331.80)"  stroke="#1a1a1a" stroke-width="0.18">Cell cycle distribution (%)</text>
<text x="38.50" y="252.00" font-size="15.8" font-family='"Liberation Sans", sans-serif' text-anchor="start" fill="#1a1a1a" textLength="8.70" lengthAdjust="spacingAndGlyphs" stroke="#1a1a1a" stroke-width="0.6" stroke-linejoin="round">C</text>
<rect x="202.00" y="262.40" width="4.60" height="5.90" fill="#fff" stroke="#2a2a2a" stroke-width="0.8"/>
<text x="208.70" y="268.60" font-size="10.4" font-family='"Liberation Sans", sans-serif' text-anchor="start" fill="#1a1a1a" textLength="10.40" lengthAdjust="spacingAndGlyphs" stroke="#1a1a1a" stroke-width="0.2">0 s</text>
<rect x="231.40" y="262.40" width="4.60" height="5.90" fill="url(#pC2_3)" stroke="#2a2a2a" stroke-width="0.8"/>
<text x="238.30" y="268.60" font-size="10.4" font-family='"Liberation Sans", sans-serif' text-anchor="start" fill="#1a1a1a" textLength="9.80" lengthAdjust="spacingAndGlyphs" stroke="#1a1a1a" stroke-width="0.2">5 s</text>
<rect x="260.50" y="262.40" width="4.60" height="5.90" fill="url(#pC3)" stroke="#2a2a2a" stroke-width="0.8"/>
<text x="267.70" y="268.60" font-size="10.4" font-family='"Liberation Sans", sans-serif' text-anchor="start" fill="#1a1a1a" textLength="13.60" lengthAdjust="spacingAndGlyphs" stroke="#1a1a1a" stroke-width="0.2">10 s</text>
<rect x="289.70" y="262.40" width="4.60" height="5.90" fill="url(#pC4)" stroke="#2a2a2a" stroke-width="0.8"/>
<text x="296.90" y="268.60" font-size="10.4" font-family='"Liberation Sans", sans-serif' text-anchor="start" fill="#1a1a1a" textLength="13.90" lengthAdjust="spacingAndGlyphs" stroke="#1a1a1a" stroke-width="0.2">15 s</text>
<rect x="202.00" y="285.20" width="4.60" height="5.90" fill="url(#pC5)" stroke="#2a2a2a" stroke-width="0.8"/>
<text x="209.20" y="291.40" font-size="10.4" font-family='"Liberation Sans", sans-serif' text-anchor="start" fill="#1a1a1a" textLength="13.90" lengthAdjust="spacingAndGlyphs" stroke="#1a1a1a" stroke-width="0.2">20 s</text>
<rect x="231.40" y="285.20" width="4.60" height="5.90" fill="url(#pC6_3)" stroke="#2a2a2a" stroke-width="0.8"/>
<text x="238.60" y="291.40" font-size="10.4" font-family='"Liberation Sans", sans-serif' text-anchor="start" fill="#1a1a1a" textLength="8.00" lengthAdjust="spacingAndGlyphs" stroke="#1a1a1a" stroke-width="0.2">25</text>
<rect x="260.50" y="285.20" width="4.60" height="5.90" fill="url(#pC7_3)" stroke="#2a2a2a" stroke-width="0.8"/>
<text x="267.70" y="291.40" font-size="10.4" font-family='"Liberation Sans", sans-serif' text-anchor="start" fill="#1a1a1a" textLength="13.60" lengthAdjust="spacingAndGlyphs" stroke="#1a1a1a" stroke-width="0.2">30 s</text>
</svg>
</body></html>
